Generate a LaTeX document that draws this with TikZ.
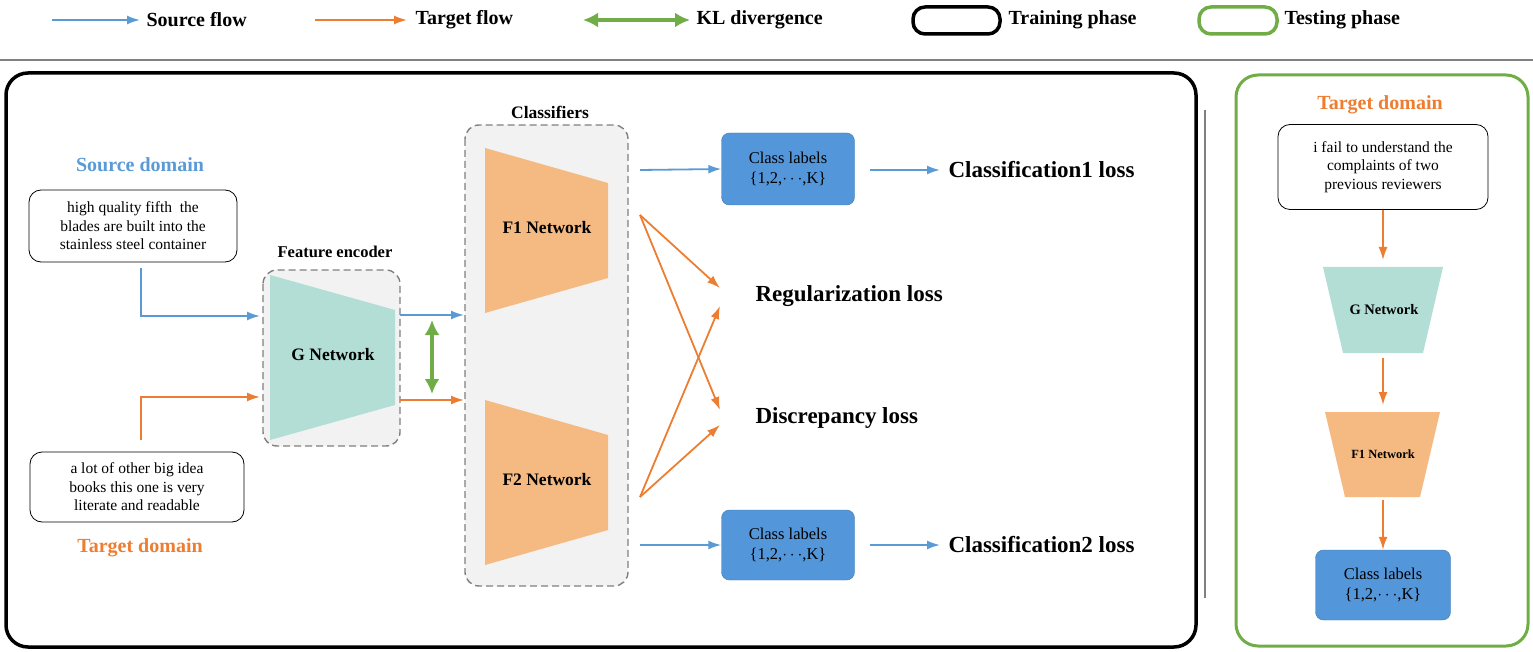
\documentclass[tikz,border=0pt]{standalone}
\usepackage{fontspec}
\setmainfont{Liberation Serif}
\usetikzlibrary{arrows.meta}
\definecolor{cblue}{RGB}{91,155,213}
\definecolor{corange}{RGB}{237,125,49}
\definecolor{cgreen}{RGB}{112,173,71}
\definecolor{cpeach}{RGB}{245,185,130}
\definecolor{cteal}{RGB}{178,222,213}
\definecolor{cbox}{RGB}{84,150,218}
\begin{document}
\begin{tikzpicture}[x=1pt,y=-1pt,
  bl/.style={draw=cblue,line width=1.8pt,-{Latex[length=13pt,width=9pt]}},
  or/.style={draw=corange,line width=1.8pt,-{Latex[length=13pt,width=9pt]}},
  leg/.style={font=\fontsize{20}{22}\selectfont\bfseries,anchor=west},
  loss/.style={font=\fontsize{23}{26}\selectfont\bfseries,anchor=west},
  txt/.style={draw=black,rounded corners=12pt,line width=0.8pt,align=center,font=\fontsize{15.5}{18.5}\selectfont,inner sep=0pt},
  cls/.style={fill=cbox,draw=cbox!80!black,line width=0.4pt,rounded corners=8pt,align=center,font=\fontsize{16.5}{20}\selectfont,inner sep=0pt},
  dbox/.style={draw=gray,dash pattern=on 7pt off 4pt,line width=1.4pt,fill=gray!10,rounded corners=14pt},
  nlab/.style={font=\fontsize{17.5}{20}\selectfont\bfseries}]
\useasboundingbox (0,0) rectangle (1533,652);
% legend
\coordinate (l1a) at (52,20); \coordinate (l1b) at (140,20);
\draw[bl] (l1a) -- (l1b);
\node[leg] (t1) at (143,20) {Source flow};
\coordinate (l2a) at (315,20); \coordinate (l2b) at (407,20);
\draw[or] (l2a) -- (l2b);
\node[leg] (t2) at (412,20) {Target flow};
\coordinate (l3a) at (583,20); \coordinate (l3b) at (690,20);
\draw[cgreen,line width=4.5pt,{Latex[length=15pt,width=15pt]}-{Latex[length=15pt,width=15pt]}] (l3a) -- (l3b);
\node[leg] (t3) at (693,20) {KL divergence};
\draw[line width=3.5pt,rounded corners=12pt] (913,7) rectangle (1000,34);
\node[leg] (t4) at (1005,20) {Training phase};
\draw[cgreen,line width=3.5pt,rounded corners=12pt] (1199,7) rectangle (1277,34);
\node[leg] (t5) at (1281,20) {Testing phase};
\draw[gray,line width=1.5pt] (0,60) -- (1533,60);
% frames
\draw[line width=3.5pt,rounded corners=22pt] (6,73) rectangle (1196,647);
\draw[cgreen,line width=3pt,rounded corners=22pt] (1236,75) rectangle (1528,646);
\draw[gray,line width=1.5pt] (1205,110) -- (1205,598);
% left texts
\node[font=\fontsize{20}{22}\selectfont\bfseries,text=cblue] (sd) at (140,165) {Source domain};
\node[txt,minimum width=208pt,minimum height=72pt] (st) at (133,226) {high quality fifth\ \ the\\blades are built into the\\stainless steel container};
\node[txt,minimum width=214pt,minimum height=70pt] (tt) at (137,487) {a lot of other big idea\\books this one is very\\literate and readable};
\node[font=\fontsize{20}{22}\selectfont\bfseries,text=corange] (td) at (140,548) {Target domain};
% encoder
\node[font=\fontsize{16.5}{19}\selectfont\bfseries] (fe) at (335,252) {Feature encoder};
\draw[dbox] (263,270) rectangle (400,446);
\fill[cteal] (270,275) -- (395,310) -- (395,405) -- (270,440) -- cycle;
\node[nlab] (g) at (333,355) {G Network};
\coordinate (gin1) at (260,316); \coordinate (gin2) at (260,397);
\draw[bl] (141,268) |- (gin1);
\draw[or] (141,440) |- (gin2);
\draw[bl] (400,315) -- (464,315);
\draw[or] (400,400) -- (464,400);
\draw[cgreen,line width=4.5pt,{Latex[length=15pt,width=15pt]}-{Latex[length=15pt,width=15pt]}] (432,320) -- (432,394);
% classifiers
\node[font=\fontsize{17.5}{20}\selectfont\bfseries] (cl) at (550,112) {Classifiers};
\draw[dbox] (465,125) rectangle (628,586);
\fill[cpeach] (485,148) -- (608,183) -- (608,278) -- (485,313) -- cycle;
\node[nlab] (f1) at (547,228) {F1 Network};
\fill[cpeach] (485,400) -- (608,435) -- (608,530) -- (485,565) -- cycle;
\node[nlab] (f2) at (547,480) {F2 Network};
% outputs
\node[cls,minimum width=133pt,minimum height=72pt] (c1) at (788,169) {Class labels\\\{1,2,$\cdots$,K\}};
\node[cls,minimum width=133pt,minimum height=70pt] (c2) at (788,545) {Class labels\\\{1,2,$\cdots$,K\}};
\draw[bl] (640,170) -- (c1.west);
\draw[bl] (870,170) -- (940,170);
\node[loss] (l1) at (945,170) {Classification1 loss};
\draw[bl] (640,545) -- (c2.west);
\draw[bl] (870,545) -- (940,545);
\node[loss] (l2) at (945,545) {Classification2 loss};
\node[loss] (rl) at (752,296) {Regularization loss};
\node[loss] (dl) at (752,418) {Discrepancy loss};
\coordinate (o1) at (640,215); \coordinate (o2) at (640,497);
\draw[or] (o1) -- (720,288);
\draw[or] (o1) -- (720,410);
\draw[or] (o2) -- (720,306);
\draw[or] (o2) -- (720,425);
% testing
\node[font=\fontsize{20}{22}\selectfont\bfseries,text=corange] (td2) at (1380,105) {Target domain};
\node[txt,minimum width=210pt,minimum height=85pt] (tt2) at (1383,167) {i fail to understand the\\complaints of two\\previous reviewers};
\fill[cteal] (1323,267) -- (1443,267) -- (1423,353) -- (1343,353) -- cycle;
\node[font=\fontsize{14.5}{17}\selectfont\bfseries] (g2) at (1384,310) {G Network};
\fill[cpeach] (1325,412) -- (1440,412) -- (1420,497) -- (1345,497) -- cycle;
\node[font=\fontsize{12.5}{15}\selectfont\bfseries] (f12) at (1383,454) {F1 Network};
\node[cls,minimum width=135pt,minimum height=70pt] (c3) at (1383,585) {Class labels\\\{1,2,$\cdots$,K\}};
\draw[or] (tt2.south) -- (1383,260);
\draw[or] (1383,358) -- (1383,405);
\draw[or] (1383,500) -- (c3.north);
\end{tikzpicture}
\end{document}
